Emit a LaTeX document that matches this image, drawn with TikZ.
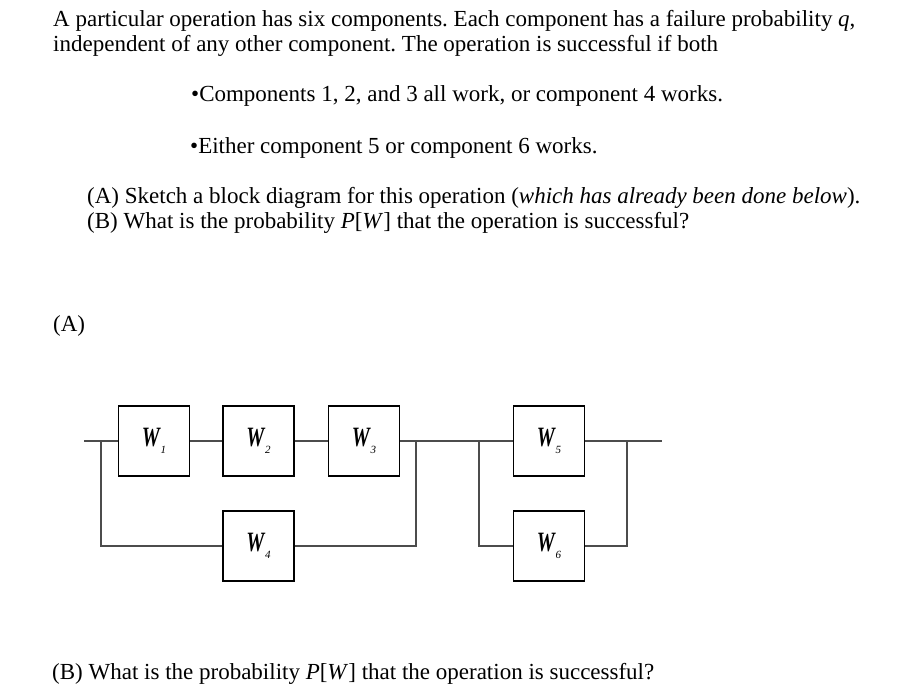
\documentclass[tikz,border=0pt]{standalone}
\usepackage{fontspec}
\setmainfont{Liberation Serif}
\begin{document}
\frenchspacing
\begin{tikzpicture}[x=1pt,y=-1pt,
  txt/.style={anchor=base west,inner sep=0pt,font=\fontsize{23}{27}\selectfont},
  blk/.style={draw=black,line width=1.3pt,minimum width=71pt,minimum height=70pt,inner sep=0pt,fill=white},
  wire/.style={draw=black!70,line width=1.3pt}]
\useasboundingbox (0,0) rectangle (901,698);
% text
\node[txt] (t1) at (53,27) {A particular operation has six components. Each component has a failure probability \textit{q},};
\node[txt] (t2) at (53,52) {independent of any other component. The operation is successful if both};
\node[txt] (t3) at (191,102) {•Components 1, 2, and 3 all work, or component 4 works.};
\node[txt] (t4) at (190,153) {•Either component 5 or component 6 works.};
\node[txt] (t5) at (87,203) {(A) Sketch a block diagram for this operation (\textit{which has already been done below}).};
\node[txt] (t6) at (87,228) {(B) What is the probability \textit{P}[\textit{W}] that the operation is successful?};
\node[txt] (t7) at (53,331) {(A)};
\node[txt] (t8) at (52,679) {(B) What is the probability \textit{P}[\textit{W}] that the operation is successful?};
% diagram
\newcommand{\wlab}[1]{\scalebox{0.72}[1]{\fontsize{28}{28}\selectfont\bfseries\itshape W}\kern1pt\raisebox{-7pt}{\fontsize{11}{11}\selectfont\textit{#1}}}
\node[blk] (W1) at (154,441) {\wlab{1}};
\node[blk] (W2) at (258.5,441) {\wlab{2}};
\node[blk] (W3) at (364,441) {\wlab{3}};
\node[blk] (W5) at (549,441) {\wlab{5}};
\node[blk] (W4) at (258.5,546) {\wlab{4}};
\node[blk] (W6) at (549,546) {\wlab{6}};
\coordinate (in) at (84,441);
\coordinate (jL) at (101,441);
\coordinate (j3) at (416,441);
\coordinate (j5) at (479,441);
\coordinate (jR) at (627,441);
\coordinate (out) at (662,441);
\draw[wire] (in) -- (W1.west);
\draw[wire] (W1.east) -- (W2.west);
\draw[wire] (W2.east) -- (W3.west);
\draw[wire] (W3.east) -- (j3) -- (j5) -- (W5.west);
\draw[wire] (jL) |- (W4.west);
\draw[wire] (W4.east) -| (j3);
\draw[wire] (j5) |- (W6.west);
\draw[wire] (W5.east) -- (jR) -- (out);
\draw[wire] (W6.east) -| (jR);
\end{tikzpicture}
\end{document}
